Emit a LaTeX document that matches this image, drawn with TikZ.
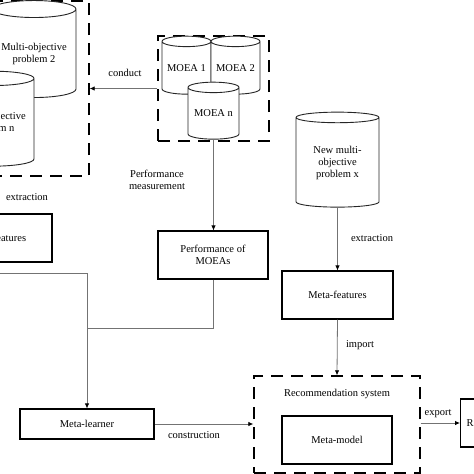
\documentclass[tikz,border=0pt]{standalone}
\usepackage{fontspec}
\setmainfont{Liberation Serif}
\usetikzlibrary{positioning, shapes.geometric, arrows.meta}

\begin{document}
\begin{tikzpicture}[x=1pt,y=-1pt,font=\fontsize{10.5}{12}\selectfont]
          \tikzset{
            box/.style={draw, line width=1.1pt, align=center, inner sep=0pt},
            dashbox/.style={draw, line width=1.4pt, dash pattern=on 12pt off 8pt, inner sep=0pt},
            db/.style={cylinder, shape border rotate=90, draw=black!85, fill=white, line width=0.9pt, align=center, inner sep=0pt},
            link/.style={draw=black!55, line width=0.8pt},
            arr/.style={link, -{Latex[length=5pt,width=4.5pt,fill=black,color=black]}},
            lbl/.style={align=center, inner sep=1pt}
          }
          \useasboundingbox (0,0) rectangle (474,474);
          \clip (0,0) rectangle (474,474);
          \node (probs) [dashbox, minimum width=119, minimum height=175] at (29.5,88.5) {};
          \node (moeas) [dashbox, minimum width=111, minimum height=105] at (213.5,88.5) {};
          \node (recsys) [dashbox, minimum width=166, minimum height=97] at (337,424.5) {};
          \begin{scope}[every node/.style={db}]
            \node (mp2) [minimum width=84, minimum height=97, aspect=0.26] at (34,53.5) {Multi-objective\\problem 2};
            \node (mpn) [minimum width=82, minimum height=95, aspect=0.22] at (-7,122.5) {Multi-objective\\problem n};
            \node (moea1) [minimum width=49, minimum height=58, aspect=0.27] at (186.5,68) {MOEA 1};
            \node (moea2) [minimum width=49, minimum height=58, aspect=0.27] at (235.5,68) {MOEA 2};
            \node (moean) [minimum width=51, minimum height=57, aspect=0.27] at (213.5,113.5) {MOEA n};
            \node (newp) [minimum width=83, minimum height=95, aspect=0.22] at (337.5,162.5) {New multi-\\objective\\problem x};
          \end{scope}
          \begin{scope}[every node/.style={box}]
            \node (mfl) [minimum width=110, minimum height=48] at (-3,238) {Meta-features};
            \node (perf) [minimum width=110, minimum height=48] at (213,255) {Performance of\\MOEAs};
            \node (mfr) [minimum width=111, minimum height=48] at (337.5,295) {Meta-features};
            \node (learner) [minimum width=134, minimum height=30] at (87,424) {Meta-learner};
            \node (model) [minimum width=110, minimum height=48] at (337,440) {Meta-model};
            \node (rec) [minimum height=48, text width=50pt, inner xsep=6pt, align=left, anchor=west] at (460,423) {R};
          \end{scope}
          \coordinate (in) at (-10,273);
          \coordinate (join) at (87,328);
          \path[arr] (moeas) -- (probs);
          \path[arr] (moean.south) -- (moean.south |- perf.north);
          \path[arr] (newp.south) -- (mfr.north);
          \path[arr] (mfr.south) -- (recsys.north);
          \path[link] (in) -| (join);
          \path[link] (perf.south) |- (join);
          \path[arr] (join) -- (learner.north);
          \path[arr] (learner.east) -- (learner.east -| recsys.west);
          \path[arr] (recsys.east |- rec.west) -- (rec.west);
          \begin{scope}[every node/.style={lbl}]
            \node (l1) at (125,73) {conduct};
            \node (l2) at (157,180) {Performance\\measurement};
            \node (l3) at (27,197) {extraction};
            \node (l4) at (372,238) {extraction};
            \node (l5) at (360,345) {import};
            \node (l6) at (337,394) {Recommendation system};
            \node (l7) at (194,435) {construction};
            \node (l8) at (438,414) {export};
          \end{scope}
        \end{tikzpicture}
\end{document}
